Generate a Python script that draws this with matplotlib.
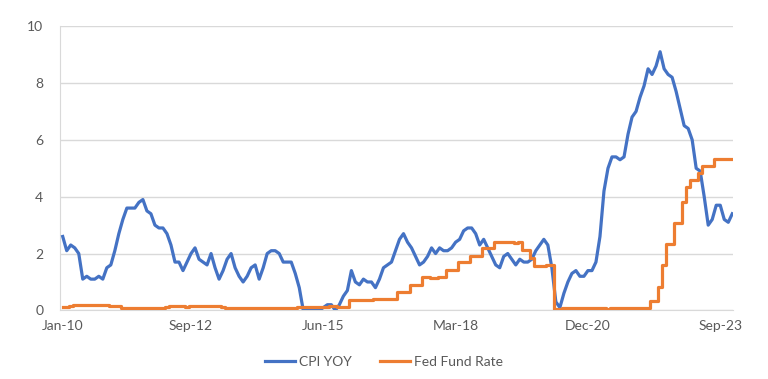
import matplotlib.pyplot as plt
import numpy as np

# monthly, Jan-10 .. Dec-23
cpi_yoy = [
    2.6, 2.1, 2.3, 2.2, 2.0, 1.1, 1.2, 1.1, 1.1, 1.2, 1.1, 1.5,
    1.6, 2.1, 2.7, 3.2, 3.6, 3.6, 3.6, 3.8, 3.9, 3.5, 3.4, 3.0,
    2.9, 2.9, 2.7, 2.3, 1.7, 1.7, 1.4, 1.7, 2.0, 2.2, 1.8, 1.7,
    1.6, 2.0, 1.5, 1.1, 1.4, 1.8, 2.0, 1.5, 1.2, 1.0, 1.2, 1.5,
    1.6, 1.1, 1.5, 2.0, 2.1, 2.1, 2.0, 1.7, 1.7, 1.7, 1.3, 0.8,
    0.0, 0.0, 0.0, 0.0, 0.0, 0.1, 0.2, 0.2, 0.0, 0.2, 0.5, 0.7,
    1.4, 1.0, 0.9, 1.1, 1.0, 1.0, 0.8, 1.1, 1.5, 1.6, 1.7, 2.1,
    2.5, 2.7, 2.4, 2.2, 1.9, 1.6, 1.7, 1.9, 2.2, 2.0, 2.2, 2.1,
    2.1, 2.2, 2.4, 2.5, 2.8, 2.9, 2.9, 2.7, 2.3, 2.5, 2.2, 1.9,
    1.6, 1.5, 1.9, 2.0, 1.8, 1.6, 1.8, 1.7, 1.7, 1.8, 2.1, 2.3,
    2.5, 2.3, 1.5, 0.3, 0.1, 0.6, 1.0, 1.3, 1.4, 1.2, 1.2, 1.4,
    1.4, 1.7, 2.6, 4.2, 5.0, 5.4, 5.4, 5.3, 5.4, 6.2, 6.8, 7.0,
    7.5, 7.9, 8.5, 8.3, 8.6, 9.1, 8.5, 8.3, 8.2, 7.7, 7.1, 6.5,
    6.4, 6.0, 5.0, 4.9, 4.0, 3.0, 3.2, 3.7, 3.7, 3.2, 3.1, 3.4,
]

fed_fund_rate = [
    0.11, 0.13, 0.16, 0.20, 0.20, 0.18, 0.18, 0.19, 0.19, 0.19, 0.19, 0.18,
    0.17, 0.16, 0.14, 0.10, 0.09, 0.09, 0.07, 0.10, 0.08, 0.07, 0.08, 0.07,
    0.08, 0.10, 0.13, 0.14, 0.16, 0.16, 0.16, 0.13, 0.14, 0.16, 0.16, 0.16,
    0.14, 0.15, 0.14, 0.15, 0.11, 0.09, 0.09, 0.08, 0.08, 0.09, 0.08, 0.09,
    0.07, 0.07, 0.08, 0.09, 0.09, 0.10, 0.09, 0.09, 0.09, 0.09, 0.09, 0.12,
    0.11, 0.11, 0.11, 0.12, 0.12, 0.13, 0.13, 0.14, 0.14, 0.12, 0.12, 0.13,
    0.36, 0.38, 0.36, 0.37, 0.37, 0.38, 0.39, 0.40, 0.40, 0.40, 0.41, 0.41,
    0.66, 0.66, 0.66, 0.91, 0.91, 0.91, 1.16, 1.16, 1.15, 1.15, 1.16, 1.16,
    1.42, 1.42, 1.42, 1.69, 1.70, 1.70, 1.91, 1.91, 1.92, 2.19, 2.20, 2.20,
    2.40, 2.40, 2.41, 2.42, 2.39, 2.38, 2.40, 2.13, 2.13, 1.85, 1.55, 1.55,
    1.55, 1.58, 1.58, 0.05, 0.05, 0.08, 0.09, 0.10, 0.09, 0.09, 0.09, 0.09,
    0.09, 0.08, 0.07, 0.07, 0.06, 0.08, 0.10, 0.09, 0.08, 0.08, 0.08, 0.08,
    0.08, 0.08, 0.08, 0.33, 0.33, 0.83, 1.58, 2.33, 2.33, 3.08, 3.08, 3.83,
    4.33, 4.58, 4.58, 4.83, 5.08, 5.08, 5.08, 5.33, 5.33, 5.33, 5.33, 5.33,
]

tick_pos = [0, 32, 65, 98, 131, 164]
tick_labels = ['Jan-10', 'Sep-12', 'Jun-15', 'Mar-18', 'Dec-20', 'Sep-23']

plt.rcParams['font.family'] = ['Lato', 'DejaVu Sans']

fig = plt.figure(figsize=(7.68, 3.79), dpi=100)
ax = fig.add_axes([0.078, 0.181, 0.876, 0.750])

x = np.arange(len(cpi_yoy))
ax.plot(x, cpi_yoy, color='#4472C4', linewidth=2.3, label='CPI YOY', zorder=3)
ax.plot(x, fed_fund_rate, color='#ED7D31', linewidth=2.3, drawstyle='steps-mid',
        label='Fed Fund Rate', zorder=3)

ax.set_xlim(-0.7, 167.1)
ax.set_ylim(0, 10)
ax.set_yticks([0, 2, 4, 6, 8, 10])
ax.set_xticks(tick_pos)
ax.set_xticklabels(tick_labels)
ax.yaxis.grid(True, color='#d9d9d9', linewidth=1)
ax.set_axisbelow(True)
ax.tick_params(length=0, labelsize=10, labelcolor='#595959')
ax.tick_params(axis='y', pad=12)
ax.tick_params(axis='x', pad=7)
for side in ['top', 'right']:
    ax.spines[side].set_visible(False)
ax.spines['left'].set_color('#d9d9d9')
ax.spines['bottom'].set_color('#d9d9d9')

fig.legend(loc='center', bbox_to_anchor=(0.5, 0.045), ncol=2, frameon=False,
           fontsize=10, labelcolor='#595959', handlelength=2.2, handletextpad=0.3,
           columnspacing=2.0)

plt.savefig('out.png', dpi=100)
